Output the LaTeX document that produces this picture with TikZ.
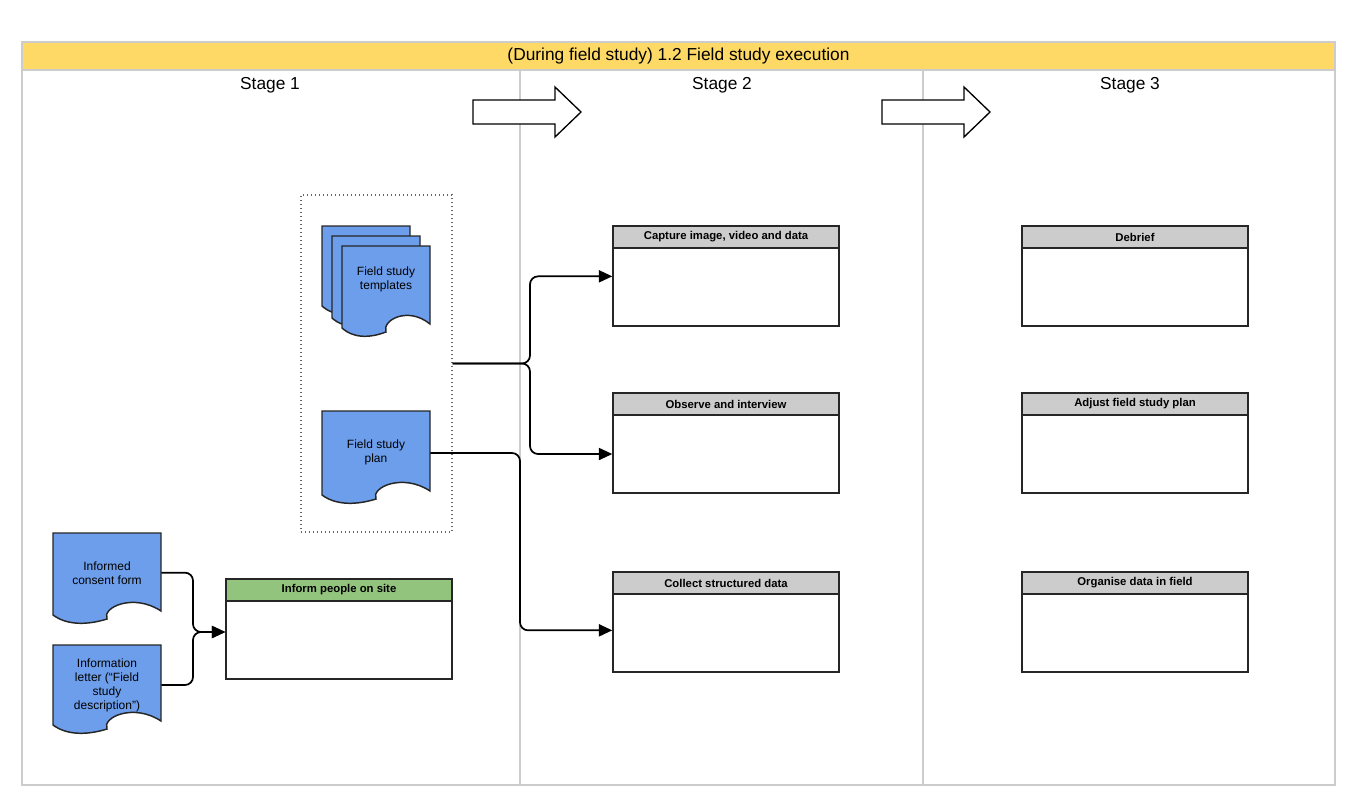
\documentclass[tikz,border=0pt]{standalone}
\usepackage{fontspec}
\setmainfont{Liberation Sans}
\usepackage{tikz}
\usetikzlibrary{arrows.meta,fit,positioning}

\definecolor{headyellow}{HTML}{FFD966}
\definecolor{docblue}{HTML}{6D9EEB}
\definecolor{headgrey}{HTML}{CCCCCC}
\definecolor{headgreen}{HTML}{93C47D}
\definecolor{lanegrey}{HTML}{CCCCCC}

\tikzset{
  doc/.style={draw=black!85, fill=docblue, line width=1.1pt},
  doctext/.style={font=\fontsize{9}{10.5}\selectfont, align=center},
  head/.style={draw=black!85, line width=1.1pt, inner sep=0pt,
    font=\bfseries\fontsize{8.5}{10}\selectfont},
  body/.style={draw=black!85, fill=white, line width=1.1pt, inner sep=0pt},
  link/.style={line width=1.3pt, rounded corners=6pt, -{Triangle[length=10pt,width=9pt]}},
  blockarrow/.style={draw=black, fill=white, line width=1pt}
}

% document sheet: name, x1, y1, x2, y2
\newcommand\docsheet[5]{%
  \draw[doc] (#2,#3) -- (#4,#3) -- (#4,#5-4)
    .. controls ({#2+0.75*(#4-#2)},#5-22) and ({#2+0.45*(#4-#2)},#5-8) .. ({#2+0.5*(#4-#2)},#5+4)
    .. controls ({#2+0.2*(#4-#2)},#5+14) and ({#2+0.05*(#4-#2)},#5+4) .. (#2,#5) -- cycle;
  \node[fit={(#2,#3)(#4,#5)}, inner sep=0pt] (#1) {};}

% process box: name, x1, y1, header fill, title
\newcommand\procbox[5]{%
  \node[head, fill=#4, fit={(#2,#3)(#2+226,#3+22)}] (#1) {};
  \node at (#1.center) {\bfseries\fontsize{8.5}{10}\selectfont #5};
  \node[body, fit={(#2,#3+22)(#2+226,#3+100)}] (#1-b) {};}

\begin{document}
\begin{tikzpicture}[x=0.75pt, y=-0.75pt]
\useasboundingbox (0,0) rectangle (1358,807);

% lanes
\draw[lanegrey, line width=1.2pt] (22,42) rectangle (1335,785);
\node[fill=headyellow, draw=lanegrey, line width=1.2pt, fit={(22,42)(1335,70)}, inner sep=0pt] (title) {};
\node at (title.center) {\fontsize{13}{15}\selectfont (During field study) 1.2 Field study execution};
\draw[lanegrey, line width=1.2pt] (520,70) -- (520,785) (923,70) -- (923,785);
\node (st1) at (270,85) {\fontsize{13}{15}\selectfont Stage 1};
\node (st2) at (722,85) {\fontsize{13}{15}\selectfont Stage 2};
\node (st3) at (1130,85) {\fontsize{13}{15}\selectfont Stage 3};

% block arrows
\foreach \bx in {473,882}
  \draw[blockarrow] (\bx,100) -- (\bx+82,100) -- (\bx+82,87) -- (\bx+108,112)
    -- (\bx+82,137) -- (\bx+82,124) -- (\bx,124) -- cycle;

% stage 1 documents
\node[draw=black!60, dotted, line width=1pt, fit={(301,195)(452,532)}, inner sep=0pt] (group) {};
\docsheet{tpl3}{322}{226}{410}{306}
\docsheet{tpl2}{332}{236}{420}{318}
\docsheet{tpl}{342}{246}{430}{328}
\node[doctext] at (386,279) {Field study\\templates};
\docsheet{plan}{322}{411}{430}{495}
\node[doctext] at (376,452) {Field study\\plan};
\docsheet{consent}{53}{533}{161}{615}
\node[doctext] at (107,573) {Informed\\consent form};
\docsheet{letter}{53}{645}{161}{725}
\node[doctext] at (107,685) {Information\\letter (“Field\\study\\description”)};

\procbox{inform}{226}{579}{headgreen}{Inform people on site}

% stage 2
\procbox{capture}{613}{226}{headgrey}{Capture image, video and data}
\procbox{observe}{613}{393}{headgrey}{Observe and interview}
\procbox{collect}{613}{572}{headgrey}{Collect structured data}

% stage 3
\procbox{debrief}{1022}{226}{headgrey}{Debrief}
\procbox{adjust}{1022}{393}{headgrey}{Adjust field study plan}
\procbox{organise}{1022}{572}{headgrey}{Organise data in field}

% connectors
\draw[link] (group.east) -| (530,320) |- ([yshift=8pt]capture-b.west);
\draw[link] (group.east) -| (530,400) |- (observe-b.west);
\draw[link] (plan.east) -| (520,560) |- ([yshift=2pt]collect-b.west);
\draw[link] ([yshift=1pt]consent.east) -| (193,600) |- ([yshift=6pt]inform-b.west);
\draw[link] (letter.east) -| (193,660) |- ([yshift=6pt]inform-b.west);

\end{tikzpicture}
\end{document}
